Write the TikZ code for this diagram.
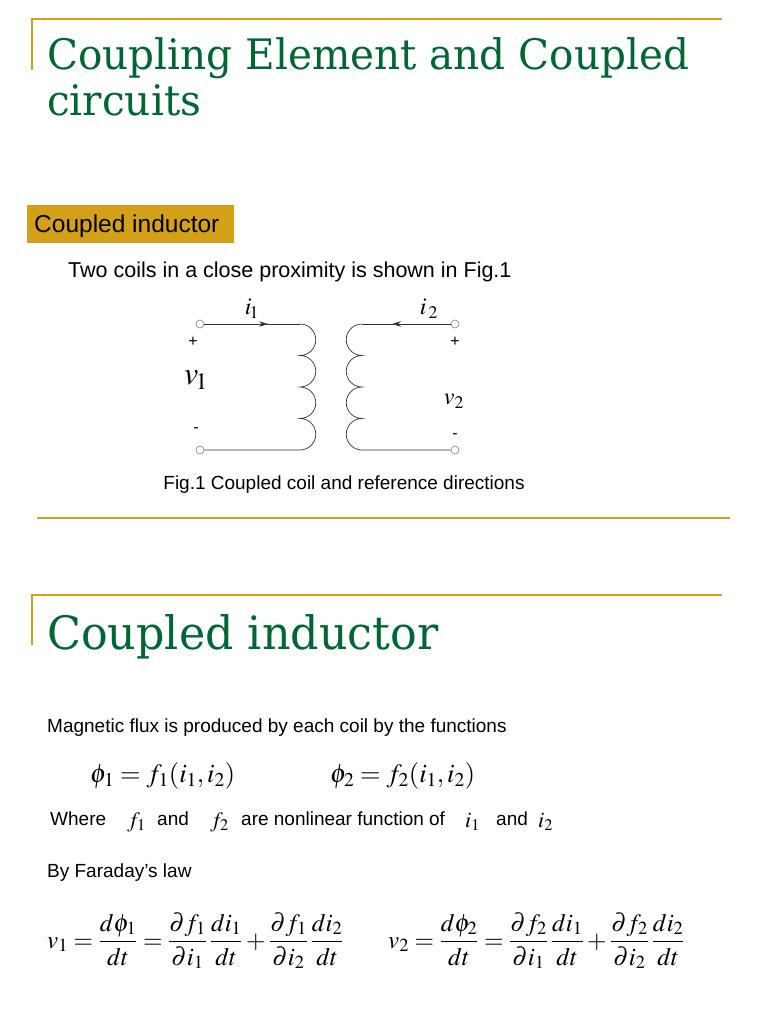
\documentclass[tikz,border=0pt]{standalone}
\usepackage{amsmath}
\usepackage{mathptmx}
\usepackage{fontspec}
\setmainfont{Liberation Sans}
\newfontfamily\titlefont[FakeStretch=0.965]{DejaVu Serif}
\usetikzlibrary{arrows.meta}
\definecolor{gold}{HTML}{D4A017}
\definecolor{tgreen}{HTML}{006633}
\tikzset{
  ttl/.style={anchor=base west,inner sep=0,text=tgreen,font=\titlefont\fontsize{42}{50}\selectfont},
  txt/.style={anchor=base west,inner sep=0,font=\fontsize{19}{22}\selectfont},
  wire/.style={line width=0.7pt,gray!40!black},
  term/.style={circle,draw=gray,line width=0.6pt,minimum size=8pt,inner sep=0},
  eq/.style={anchor=base west,inner sep=0,font=\fontsize{26.5}{30}\selectfont},
  lbl/.style={inner sep=0,font=\fontsize{16}{19}\selectfont},
  tip/.style={-{Stealth[length=9pt,width=5.5pt]}}
}
\begin{document}
\begin{tikzpicture}[x=1pt,y=-1pt]
\useasboundingbox (0,0) rectangle (768,1024);
\fill[white] (0,0) rectangle (768,1024);
% slide 1
\draw[gold,line width=1.2pt] (32,70) -- (32,19) -- (722,19);
\node[ttl] (t1) at (47,70) {Coupling Element and Coupled};
\node[ttl] (t2) at (47,116) {circuits};
\fill[gold] (27,205) rectangle (234,243);
\node[txt,font=\fontsize{24.5}{28}\selectfont] (ci) at (34,233) {Coupled inductor};
\node[txt,font=\fontsize{21.5}{24}\selectfont] (two) at (68,277) {Two coils in a close proximity is shown in Fig.1};
% circuit
\node[term] (a) at (200,324) {};
\node[term] (b) at (200,450) {};
\node[term] (c) at (455,324) {};
\node[term] (d) at (455,450) {};
\coordinate (l1) at (300,324);
\coordinate (r1) at (362,324);
\draw[wire] (a) -- (l1);
\draw[wire,tip] (a) -- (268,324);
\draw[wire] (l1) arc (-90:90:15.75) arc (-90:90:15.75) arc (-90:90:15.75) arc (-90:90:15.75) -- (b);
\draw[wire] (c) -- (r1);
\draw[wire,tip] (c) -- (392,324);
\draw[wire] (r1) arc (270:90:15.75) arc (270:90:15.75) arc (270:90:15.75) arc (270:90:15.75) -- (d);
\node[lbl,font=\fontsize{24}{28}\selectfont] (i1) at (252,309) {$i_{\!1}$};
\node[lbl,font=\fontsize{24}{28}\selectfont] (i2) at (429,309) {$i_{\,2}$};
\node[lbl] (p1) at (193,342) {+};
\node[lbl] (p2) at (455,342) {+};
\node[lbl,font=\fontsize{32}{36}\selectfont] (v1) at (196,380) {$v_{\!1}$};
\node[lbl,font=\fontsize{24}{28}\selectfont] (v2) at (454,401) {$v_2$};
\node[lbl] (m1) at (196,430) {-};
\node[lbl] (m2) at (455,436) {-};
\node[txt,anchor=base] (cap) at (344,489) {Fig.1 Coupled coil and reference directions};
\draw[gold,line width=1.2pt] (37,518) -- (730,518);
% slide 2
\draw[gold,line width=1.2pt] (32,645) -- (32,595) -- (722,595);
\node[ttl,font=\titlefont\fontsize{46}{50}\selectfont] (t3) at (47,649) {Coupled inductor};
\node[txt] (mag) at (47,732) {Magnetic flux is produced by each coil by the functions};
\node[eq] (e1) at (90,782) {$\phi_1 = f_1(i_1,i_2)$};
\node[eq] (e2) at (330,782) {$\phi_2 = f_2(i_1,i_2)$};
\node[txt] (wh) at (50,825) {Where};
\node[eq,font=\fontsize{22}{26}\selectfont] (f1) at (127,827) {$f_1$};
\node[txt] (and1) at (157,825) {and};
\node[eq,font=\fontsize{22}{26}\selectfont] (f2) at (210,827) {$f_2$};
\node[txt] (nl) at (241,825) {are nonlinear function of};
\node[eq,font=\fontsize{22}{26}\selectfont] (ii1) at (465,827) {$i_1$};
\node[txt] (and2) at (496,825) {and};
\node[eq,font=\fontsize{22}{26}\selectfont] (ii2) at (538,827) {$i_2$};
\node[txt] (far) at (47,877) {By Faraday's law};
\node[eq,font=\fontsize{25}{29}\selectfont] (e3) at (47,948) {$v_1=\dfrac{d\phi_1}{dt}=\dfrac{\partial f_1}{\partial i_1}\,\dfrac{di_1}{dt}+\dfrac{\partial f_1}{\partial i_2}\,\dfrac{di_2}{dt}$};
\node[eq,font=\fontsize{25}{29}\selectfont] (e4) at (388,948) {$v_2=\dfrac{d\phi_2}{dt}=\dfrac{\partial f_2}{\partial i_1}\,\dfrac{di_1}{dt}+\dfrac{\partial f_2}{\partial i_2}\,\dfrac{di_2}{dt}$};
\end{tikzpicture}
\end{document}
